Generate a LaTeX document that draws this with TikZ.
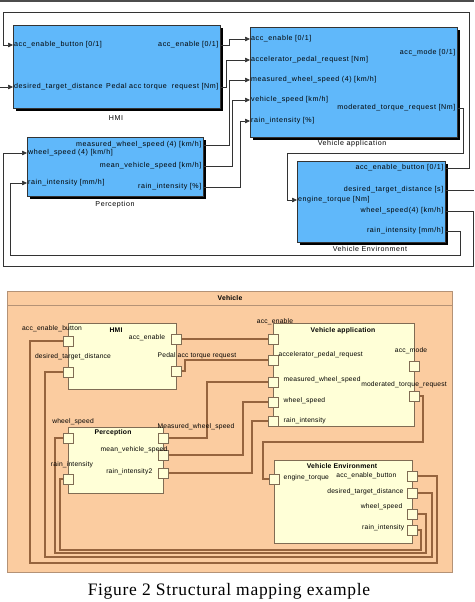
\documentclass[tikz,border=0pt]{standalone}
\usepackage{fontspec}
\setmainfont{Liberation Serif}
\setsansfont{Liberation Sans}
\newfontfamily\simfont[LetterSpace=8]{Liberation Sans}
\newfontfamily\umlfont[LetterSpace=3]{Liberation Sans}
\newfontfamily\capfont[LetterSpace=4]{Liberation Serif}
\usetikzlibrary{arrows.meta, positioning, shadows}
\definecolor{simblue}{RGB}{96, 184, 250}
\definecolor{peach}{RGB}{251, 204, 160}
\definecolor{peachline}{RGB}{180, 146, 118}
\definecolor{partyellow}{RGB}{255, 255, 215}
\definecolor{partline}{RGB}{128, 108, 84}
\definecolor{wirebrown}{RGB}{150, 100, 62}

\begin{document}
\begin{tikzpicture}[x=1pt, y=-1pt,
        % Global font for the diagram text
        font=\umlfont\fontsize{6.7}{7}\selectfont,
        % Styles for the Simulink model (top)
        simblock/.style={draw=black!80, fill=simblue, line width=0.5pt, anchor=north west,
            drop shadow={shadow xshift=3pt, shadow yshift=-3pt, fill=black, opacity=1}},
        simwire/.style={black!80, line width=0.6pt},
        simarrow/.style={simwire, -{Triangle[length=5pt, width=4.5pt]}},
        simin/.style={anchor=west, inner sep=1pt, font=\simfont\fontsize{7.1}{8}\selectfont},
        simout/.style={anchor=east, inner sep=1.5pt, font=\simfont\fontsize{7.1}{8}\selectfont},
        simname/.style={font=\simfont\fontsize{7.1}{8}\selectfont},
        % Styles for the UML composite structure (bottom)
        umlframe/.style={draw=peachline, fill=peach, line width=0.8pt},
        umlpart/.style={draw=partline, fill=partyellow, line width=0.9pt, anchor=north west},
        umlport/.style={draw=partline, fill=partyellow, line width=0.9pt, minimum size=10pt, inner sep=0pt},
        umlwire/.style={wirebrown, line width=1.3pt},
        umltitle/.style={font=\umlfont\bfseries\fontsize{6.8}{7}\selectfont},
        umllabel/.style={inner sep=0.5pt}
    ]

    \useasboundingbox (0,0) rectangle (474,602);

    % Simulink model
    \fill[black!70] (0,0) rectangle (474,2.5);

    \node[simblock, minimum width=207pt, minimum height=83pt] (hmi) at (13,25) {};
    \node[simblock, minimum width=176pt, minimum height=59pt] (perc) at (27,137) {};
    \node[simblock, minimum width=207pt, minimum height=110pt] (vapp) at (250,27) {};
    \node[simblock, minimum width=148pt, minimum height=81pt] (venv) at (297,161) {};

    \node[simname] (hmi-name) at (116,118) {HMI};
    \node[simname] (perc-name) at (115,205) {Perception};
    \node[simname] (vapp-name) at (352,144) {Vehicle application};
    \node[simname] (venv-name) at (370,249) {Vehicle Environment};

    % Block ports
    \coordinate (hmi-i1) at (13,45);
    \coordinate (hmi-i2) at (13,87);
    \coordinate (hmi-o1) at (220,45);
    \coordinate (hmi-o2) at (220,87);
    \coordinate (perc-i1) at (27,153);
    \coordinate (perc-i2) at (27,183);
    \coordinate (perc-o1) at (203,145);
    \coordinate (perc-o2) at (203,166);
    \coordinate (perc-o3) at (203,187);
    \coordinate (vapp-i1) at (250,39);
    \coordinate (vapp-i2) at (250,60);
    \coordinate (vapp-i3) at (250,80);
    \coordinate (vapp-i4) at (250,100);
    \coordinate (vapp-i5) at (250,121);
    \coordinate (vapp-o1) at (457,53);
    \coordinate (vapp-o2) at (457,108);
    \coordinate (venv-i1) at (297,200);
    \coordinate (venv-o1) at (445,168);
    \coordinate (venv-o2) at (445,190);
    \coordinate (venv-o3) at (445,211);
    \coordinate (venv-o4) at (445,231);
    \coordinate (edge-l) at (0,87);
    \coordinate (edge-r) at (474,190);

    % Port labels
    \node[simin] at (hmi-i1) {acc\_enable\_button [0/1]};
    \node[simin] at (hmi-i2) {desired\_target\_distance};
    \node[simout] at (hmi-o1) {acc\_enable [0/1]};
    \node[simout] at (hmi-o2) {Pedal acc torque\ \ request [Nm]};
    \node[simin] at (perc-i1) {wheel\_speed (4) [km/h]};
    \node[simin] at (perc-i2) {rain\_intensity [mm/h]};
    \node[simout] at (perc-o1) {measured\_wheel\_speed (4) [km/h]};
    \node[simout] at (perc-o2) {mean\_vehicle\_speed [km/h]};
    \node[simout] at (perc-o3) {rain\_intensity [\%]};
    \node[simin] at (vapp-i1) {acc\_enable [0/1]};
    \node[simin] at (vapp-i2) {accelerator\_pedal\_request [Nm]};
    \node[simin] at (vapp-i3) {measured\_wheel\_speed (4) [km/h]};
    \node[simin] at (vapp-i4) {vehicle\_speed [km/h]};
    \node[simin] at (vapp-i5) {rain\_intensity [\%]};
    \node[simout] at (vapp-o1) {acc\_mode [0/1]};
    \node[simout] at (vapp-o2) {moderated\_torque\_request [Nm]};
    \node[simin] at (venv-i1) {engine\_torque [Nm]};
    \node[simout] at (venv-o1) {acc\_enable\_button [0/1]};
    \node[simout] at (venv-o2) {desired\_target\_distance [s]};
    \node[simout] at (venv-o3) {wheel\_speed(4) [km/h]};
    \node[simout] at (venv-o4) {rain\_intensity [mm/h]};

    % Signal lines
    \draw[simarrow] (hmi-o1) -- ++(9,0) |- (vapp-i1);
    \draw[simarrow] (hmi-o2) -- ++(6,0) |- (vapp-i2);
    \draw[simarrow] (perc-o1) -- ++(26,0) |- (vapp-i3);
    \draw[simarrow] (perc-o2) -- ++(29,0) |- (vapp-i4);
    \draw[simarrow] (perc-o3) -- ++(37,0) |- (vapp-i5);
    \draw[simarrow] (vapp-o2) -- ++(6,0) |- (287,153) |- (venv-i1);
    \draw[simarrow] (venv-o1) -- ++(24,0) |- (3,12) |- (hmi-i1);
    \draw[simwire] (venv-o2) -- (edge-r);
    \draw[simarrow] (edge-l) -- (hmi-i2);
    \draw[simarrow] (venv-o3) -- ++(28,0) |- (3,266) |- (perc-i1);
    \draw[simarrow] (venv-o4) -- ++(15,0) |- (10,255) |- (perc-i2);

    % UML composite structure
    \draw[umlframe] (7,291) rectangle (452,572);
    \draw[peachline, line width=0.8pt] (7,305) -- (452,305);
    \node[umltitle] (vehicle) at (230,298) {Vehicle};

    \node[umlpart, minimum width=108pt, minimum height=66pt] (hmi2) at (68,323) {};
    \node[umlpart, minimum width=141pt, minimum height=103pt] (vapp2) at (273,323) {};
    \node[umlpart, minimum width=95pt, minimum height=66pt] (perc2) at (68,427) {};
    \node[umlpart, minimum width=138pt, minimum height=83pt] (venv2) at (274,460) {};

    \node[umltitle] at (116,330) {HMI};
    \node[umltitle] at (343,331) {Vehicle application};
    \node[umltitle] at (113,433) {Perception};
    \node[umltitle] at (342,466) {Vehicle Environment};

    % Connectors between the parts
    \draw[umlwire] (176,339) -- (273,339);
    \draw[umlwire] (176,371) -- ++(9,0) |- (273,360);
    \draw[umlwire] (163,438) -- (207,438) |- (273,382);
    \draw[umlwire] (163,455) -- (243,455) |- (273,402);
    \draw[umlwire] (163,473) -- (252,473) |- (273,421);
    \draw[umlwire] (414,396) -- (423,396) |- (263,442) |- (274,479);
    \draw[umlwire] (412,476) -- (437,476) |- (30,563) |- (68,341);
    \draw[umlwire] (412,493) -- (432,493) |- (45,557) |- (68,372);
    \draw[umlwire] (412,514) -- (426,514) |- (55,553) |- (68,438);
    \draw[umlwire] (412,530) -- (421,530) |- (60,550) |- (68,479);

    % Ports
    \node[umlport] (p-btn) at (68,341) {};
    \node[umlport] (p-dtd) at (68,372) {};
    \node[umlport] (p-acc) at (176,339) {};
    \node[umlport] (p-pedal) at (176,371) {};
    \node[umlport] (pa-acc) at (273,339) {};
    \node[umlport] (pa-pedal) at (273,360) {};
    \node[umlport] (pa-mws) at (273,382) {};
    \node[umlport] (pa-ws) at (273,402) {};
    \node[umlport] (pa-rain) at (273,421) {};
    \node[umlport] (pa-mode) at (414,366) {};
    \node[umlport] (pa-mtr) at (414,396) {};
    \node[umlport] (pp-ws) at (68,438) {};
    \node[umlport] (pp-rain) at (68,479) {};
    \node[umlport] (pp-mws) at (163,438) {};
    \node[umlport] (pp-mean) at (163,455) {};
    \node[umlport] (pp-rain2) at (163,473) {};
    \node[umlport] (pe-eng) at (274,479) {};
    \node[umlport] (pe-btn) at (412,476) {};
    \node[umlport] (pe-dtd) at (412,493) {};
    \node[umlport] (pe-ws) at (412,514) {};
    \node[umlport] (pe-rain) at (412,530) {};

    % Port names
    \node[umllabel] at (52,329) {acc\_enable\_button};
    \node[umllabel] at (73,357) {desired\_target\_distance};
    \node[umllabel] at (147,338) {acc\_enable};
    \node[umllabel, anchor=west] at (157,356) {Pedal acc torque request};
    \node[umllabel] at (275,322) {acc\_enable};
    \node[umllabel, anchor=west] at (278,355) {accelerator\_pedal\_request};
    \node[umllabel, anchor=west] at (283,380) {measured\_wheel\_speed};
    \node[umllabel, anchor=west] at (283,401) {wheel\_speed};
    \node[umllabel, anchor=west] at (283,421) {rain\_intensity};
    \node[umllabel] at (411,351) {acc\_mode};
    \node[umllabel] at (404,385) {moderated\_torque\_request};
    \node[umllabel] at (73,422) {wheel\_speed};
    \node[umllabel] at (72,465) {rain\_intensity};
    \node[umllabel] at (196,427) {Measured\_wheel\_speed};
    \node[umllabel] at (134,450) {mean\_vehicle\_speed};
    \node[umllabel, anchor=east] at (153,472) {rain\_intensity2};
    \node[umllabel, anchor=west] at (283,478) {engine\_torque};
    \node[umllabel, anchor=east] at (397,476) {acc\_enable\_button};
    \node[umllabel, anchor=east] at (404,492) {desired\_target\_distance};
    \node[umllabel, anchor=east] at (403,507) {wheel\_speed};
    \node[umllabel, anchor=east] at (405,528) {rain\_intensity};

    \node[font=\capfont\fontsize{17.5}{19}\selectfont] (caption) at (229,591) {Figure 2 Structural mapping example};
\end{tikzpicture}
\end{document}
